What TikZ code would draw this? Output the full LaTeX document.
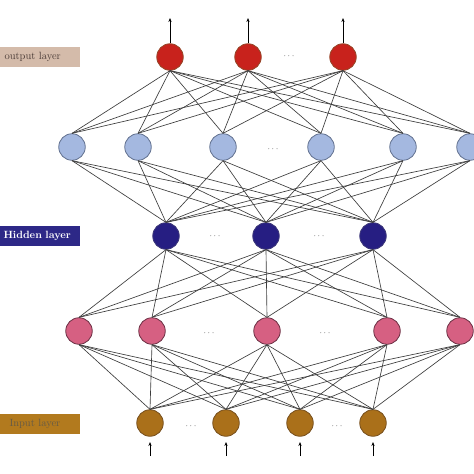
\documentclass[tikz,border=0pt]{standalone}
\usetikzlibrary{arrows.meta}
\definecolor{outred}{RGB}{200,34,28}
\definecolor{outredb}{RGB}{150,70,40}
\definecolor{lblue}{RGB}{164,184,224}
\definecolor{lblueb}{RGB}{100,115,145}
\definecolor{navy}{RGB}{38,30,130}
\definecolor{navyb}{RGB}{60,55,120}
\definecolor{pinkn}{RGB}{214,96,130}
\definecolor{pinkb}{RGB}{110,50,70}
\definecolor{goldn}{RGB}{170,112,26}
\definecolor{goldb}{RGB}{120,80,30}
\definecolor{boxtan}{RGB}{212,187,170}
\definecolor{boxtantext}{RGB}{75,60,55}
\definecolor{boxnavy}{RGB}{45,40,135}
\definecolor{boxgold}{RGB}{178,122,30}
\definecolor{boxgoldtext}{RGB}{100,90,70}
\definecolor{edgegray}{RGB}{60,60,60}
\definecolor{dotgray}{RGB}{60,60,60}
\begin{document}
\begin{tikzpicture}[x=1pt,y=-1pt,
  neuron/.style={circle,draw,line width=0.8pt,minimum size=26.5pt,inner sep=0pt},
  outn/.style={neuron,fill=outred,draw=outredb},
  bluen/.style={neuron,fill=lblue,draw=lblueb},
  hidn/.style={neuron,fill=navy,draw=navyb},
  pinkn/.style={neuron,fill=pinkn,draw=pinkb},
  inn/.style={neuron,fill=goldn,draw=goldb},
  conn/.style={draw=edgegray,line width=0.65pt},
  ioarrow/.style={draw=black,line width=0.8pt,-{Stealth[length=4pt,width=3.2pt]}},
  dotsn/.style={text=dotgray,font=\small,inner sep=0pt},
  labelbox/.style={rectangle,minimum width=80pt,minimum height=20pt,text width=75pt,align=left,inner xsep=2.5pt,inner ysep=0pt,font=\fontsize{10.5}{12}\selectfont}
]
\useasboundingbox (0,0) rectangle (474,474);
\fill[white] (0,0) rectangle (474,474);

% label boxes
\node[labelbox,fill=boxtan,text=boxtantext] (lout) at (40,57) {\hspace*{2pt}output layer};
\node[labelbox,fill=boxnavy,text=white,font=\fontsize{10.5}{12}\selectfont\bfseries] (lhid) at (40,236) {\hspace*{1pt}Hidden layer};
\node[labelbox,fill=boxgold,text=boxgoldtext] (lin) at (40,424) {\hspace*{7pt}Input layer};

% output layer
\node[outn] (o1) at (170,57) {};
\node[outn] (o2) at (248,57) {};
\node[outn] (o3) at (343,57) {};
\node[dotsn] (od) at (289,56) {$\cdots$};

% light blue layer
\node[bluen] (b1) at (72,147) {};
\node[bluen] (b2) at (138,147) {};
\node[bluen] (b3) at (223,147) {};
\node[bluen] (b4) at (321,147) {};
\node[bluen] (b5) at (403,147) {};
\node[bluen] (b6) at (470,147) {};
\node[dotsn] (bd) at (273,149) {$\cdots$};

% hidden layer
\node[hidn] (h1) at (166,236) {};
\node[hidn] (h2) at (266,236) {};
\node[hidn] (h3) at (373,236) {};
\node[dotsn] (hd1) at (215,236) {$\cdots$};
\node[dotsn] (hd2) at (319,236) {$\cdots$};

% pink layer
\node[pinkn] (p1) at (79,331) {};
\node[pinkn] (p2) at (152,331) {};
\node[pinkn] (p3) at (267,331) {};
\node[pinkn] (p4) at (387,331) {};
\node[pinkn] (p5) at (460,331) {};
\node[dotsn] (pd1) at (209,333) {$\cdots$};
\node[dotsn] (pd2) at (325,333) {$\cdots$};

% input layer
\node[inn] (i1) at (150,423) {};
\node[inn] (i2) at (226,423) {};
\node[inn] (i3) at (300,423) {};
\node[inn] (i4) at (373,423) {};
\node[dotsn] (id1) at (191,426) {$\cdots$};
\node[dotsn] (id2) at (337,426) {$\cdots$};

% connections
\foreach \a in {o1,o2,o3}
  \foreach \b in {b1,b2,b3,b4,b5,b6}
    \draw[conn] (\a.south) -- (\b.north);
\foreach \a in {b1,b2,b3,b4,b5,b6}
  \foreach \b in {h1,h2,h3}
    \draw[conn] (\a.south) -- (\b.north);
\foreach \a in {h1,h2,h3}
  \foreach \b in {p1,p2,p3,p4,p5}
    \draw[conn] (\a.south) -- (\b.north);
\foreach \a in {p1,p2,p3,p4,p5}
  \foreach \b in {i1,i2,i3,i4}
    \draw[conn] (\a.south) -- (\b.north);

% output arrows
\coordinate (ot1) at (170,18);
\coordinate (ot2) at (248,18);
\coordinate (ot3) at (343,18);
\draw[ioarrow] (o1.north) -- (ot1);
\draw[ioarrow] (o2.north) -- (ot2);
\draw[ioarrow] (o3.north) -- (ot3);

% input arrows
\foreach \n/\x in {1/150,2/226,3/300,4/373}{
  \coordinate (ib\n) at (\x,456);
  \coordinate (it\n) at (\x,442);
  \draw[ioarrow] (ib\n) -- (it\n);
}
\end{tikzpicture}
\end{document}
